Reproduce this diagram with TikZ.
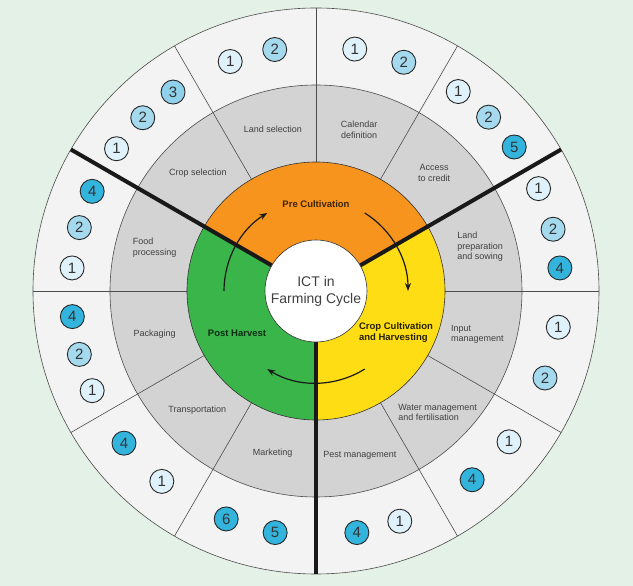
\documentclass[tikz,border=0pt]{standalone}
\usepackage{fontspec}
\setmainfont{Liberation Sans}
\usetikzlibrary{arrows.meta}
\definecolor{bg}{HTML}{E4F1E6}
\definecolor{outerf}{HTML}{F3F3F4}
\definecolor{grayf}{HTML}{D3D3D4}
\definecolor{orangef}{HTML}{F7941D}
\definecolor{yellowf}{HTML}{FFDD15}
\definecolor{greenf}{HTML}{39B54A}
\definecolor{ca}{HTML}{DFF1FA}
\definecolor{cb}{HTML}{A5D9EE}
\definecolor{cc}{HTML}{8FD0EA}
\definecolor{cd}{HTML}{33B4DC}
\tikzset{
 num/.style={circle,draw=black!85,line width=0.9pt,minimum size=24pt,inner sep=0pt,font=\fontsize{15}{15}\selectfont,text=black!80},
 lab/.style={font=\fontsize{9}{10.5}\selectfont,text=black!75,align=center},
 phase/.style={font=\bfseries\fontsize{9.5}{11}\selectfont,align=left},
 thin/.style={draw=black!70,line width=0.6pt},
 thick/.style={draw=black!90,line width=4pt},
 cyc/.style={draw=black!90,line width=1.2pt,-{Stealth[length=8pt,width=6pt]}}
}
\begin{document}
\begin{tikzpicture}[x=1pt,y=1pt]
\path[fill=bg] (-316,-295) rectangle (317,291);
\useasboundingbox (-316,-295) rectangle (317,291);
% rings
\fill[outerf] (0,0) circle (283);
\fill[grayf] (0,0) circle (206);
\fill[orangef] (0,0) -- (30:129) arc (30:150:129) -- cycle;
\fill[yellowf] (0,0) -- (-90:129) arc (-90:30:129) -- cycle;
\fill[greenf] (0,0) -- (150:129) arc (150:270:129) -- cycle;
\foreach \a in {0,60,90,120,180,210,240,300,330}
  \draw[thin] (\a:129) -- (\a:283);
\draw[thin] (0,0) circle (283);
\draw[thin] (0,0) circle (206);
\draw[black!80,line width=0.6pt] (0,0) circle (129);
\foreach \a in {30,150,270}
  \draw[thick] (\a:51) -- (\a:283);
\draw[fill=white,draw=black!80,line width=0.6pt] (0,0) circle (51);
\node[align=center,inner sep=0pt,font=\fontsize{14}{17}\selectfont,text=black!75] (c) at (0,0) {ICT in\\Farming Cycle};
% arrows
\draw[cyc] (180:92) arc (180:122:92);
\draw[cyc] (58:92) arc (58:0:92);
\draw[cyc] (-58:92) arc (-58:-122:92);
% phase labels
\node[phase,text=black!75!orangef] (p1) at (0,87) {Pre Cultivation};
\node[phase,text=black!85!yellowf] (p2) at (80,-42) {Crop Cultivation\\and Harvesting};
\node[phase,text=black!75!greenf] (p3) at (-79,-42) {Post Harvest};
% gray labels
\node[lab] (g1) at (105:167) {Land selection};
\node[lab] (g2) at (75:167) {Calendar\\definition};
\node[lab] (g3) at (45:167) {Access\\to credit};
\node[lab,align=left] (g4) at (15:170) {Land\\preparation\\and sowing};
\node[lab,align=left] (g5) at (-15:167) {Input\\management};
\node[lab,align=left] (g6) at (-45:172) {Water management\\and fertilisation};
\node[lab] (g7) at (-75:170) {Pest management};
\node[lab] (g8) at (-105:168) {Marketing};
\node[lab] (g9) at (-135:168) {Transportation};
\node[lab] (g10) at (-165:167) {Packaging};
\node[lab,align=left] (g11) at (165:167) {Food\\processing};
\node[lab] (g12) at (135:167) {Crop selection};
% numbers
\foreach \ang/\n/\col [count=\i] in {
 110.5/1/ca, 99.7/2/cb,
 80.9/1/ca, 69/2/cb,
 54.5/1/ca, 45.2/2/cb, 36/5/cd,
 24.7/1/ca, 14.6/2/cb, 5.4/4/cd,
 -8.5/1/ca, -20.8/2/cb,
 -38/1/ca, -50.4/4/cd,
 -70/1/ca, -80.4/4/cd,
 -99.6/5/cd, -111.5/6/cd,
 -129/1/ca, -141.6/4/cd,
 -156/1/ca, -165/2/cb, -174/4/cd,
 174.6/1/ca, 165/2/cb, 156/4/cd,
 144.5/1/ca, 135/2/cb, 125.7/3/cc}
  \node[num,fill=\col] (n\i) at (\ang:245) {\n};
\end{tikzpicture}
\end{document}
